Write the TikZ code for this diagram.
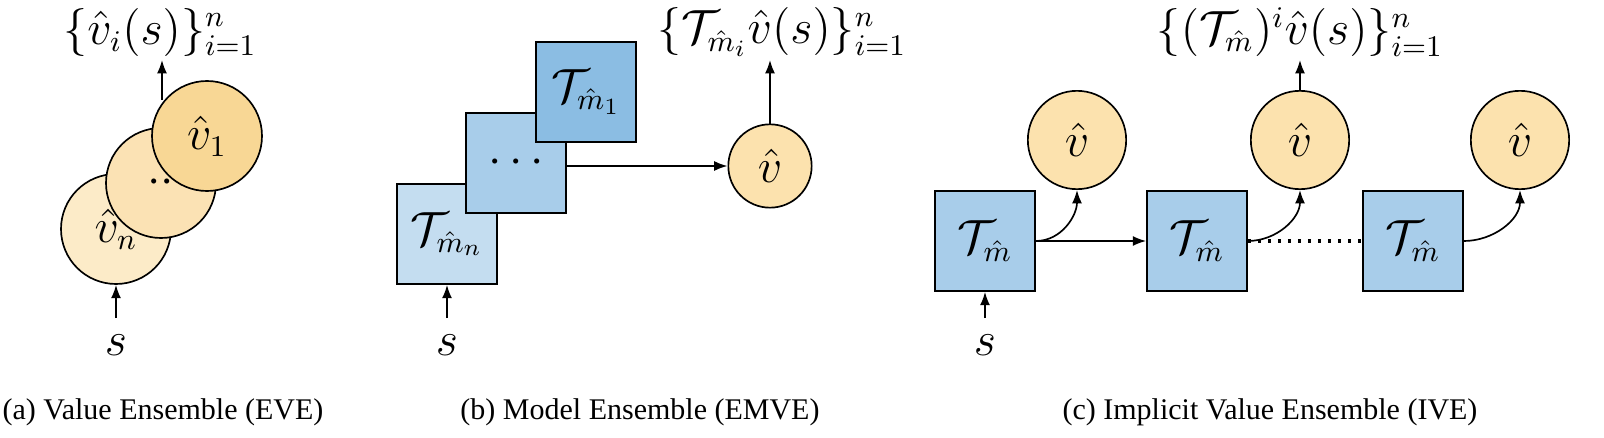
\documentclass[tikz,border=0pt]{standalone}
\usepackage{fontspec}
\setmainfont{Liberation Serif}
\usetikzlibrary{arrows.meta}
\definecolor{o1}{HTML}{FCEBC8}\definecolor{o2}{HTML}{FBE2B4}\definecolor{o3}{HTML}{F8D795}\definecolor{oc}{HTML}{FCE2AE}
\definecolor{b1}{HTML}{C4DDF0}\definecolor{b2}{HTML}{A8CDEA}\definecolor{b3}{HTML}{8BBDE3}
\begin{document}
\begin{tikzpicture}[x=0.3pt,y=-0.3pt,
 m/.style={font=\fontsize{13.5}{16}\selectfont},
 circ/.style={circle,draw,line width=0.5pt,minimum size=33pt,inner sep=0pt,m},
 box/.style={rectangle,draw,line width=0.5pt,minimum size=30pt,inner sep=0pt,m},
 ar/.style={-{Latex[length=4pt,width=3pt]},line width=0.5pt},
 captxt/.style={font=\fontsize{9}{11}\selectfont}]
\useasboundingbox (0,0) rectangle (1604,438);
% (a)
\coordinate (a0) at (162,100);
\draw[ar] (a0) -- (162,60);
\node[circ,fill=o1] (vn) at (116,229) {$\hat v_n$};
\node[circ,fill=o2] (vm) at (161,183) {$\cdot\cdot$};
\node[circ,fill=o3] (v1) at (207,136) {$\hat v_1$};
\node[m] (ta) at (160,32) {$\{\hat v_i(s)\}_{i=1}^n$};
\node[m] (sa) at (116,345) {$s$};
\coordinate (sa0) at (116,318);
\draw[ar] (sa0) -- (vn.south);
\node[captxt] at (163,412) {(a) Value Ensemble (EVE)};
% (b)
\node[box,fill=b1] (tn) at (447,234) {$\mathcal T_{\hat m_n}$};
\node[box,fill=b2] (td) at (516,163) {$\cdots$};
\node[box,fill=b3] (t1) at (586,92) {$\mathcal T_{\hat m_1}$};
\node[circ,fill=oc,minimum size=25pt] (vb) at (770,166) {$\hat v$};
\draw[ar] (td.east |- vb) -- (vb);
\node[m] (tb) at (782,32) {$\{\mathcal T_{\hat m_i}\hat v(s)\}_{i=1}^n$};
\draw[ar] (vb.north) -- (770,60);
\node[m] (sb) at (447,345) {$s$};
\coordinate (sb0) at (447,318);
\draw[ar] (sb0) -- (tn.south);
\node[captxt] at (640,412) {(b) Model Ensemble (EMVE)};
% (c)
\node[box,fill=b2] (c1) at (985,241) {$\mathcal T_{\hat m}$};
\node[box,fill=b2] (c2) at (1197,241) {$\mathcal T_{\hat m}$};
\node[box,fill=b2] (c3) at (1413,241) {$\mathcal T_{\hat m}$};
\node[circ,fill=oc,minimum size=29.5pt] (e1) at (1077,140) {$\hat v$};
\node[circ,fill=oc,minimum size=29.5pt] (e2) at (1300,140) {$\hat v$};
\node[circ,fill=oc,minimum size=29.5pt] (e3) at (1520,140) {$\hat v$};
\draw[ar] (c1.east) -- (c2.west);
\draw[ar] (c1.east) to[out=0,in=-90] (e1.south);
\draw[ar] (c2.east) to[out=0,in=-90] (e2.south);
\draw[ar] (c3.east) to[out=0,in=-90] (e3.south);
\draw[line width=1pt,dotted] (c2.east) -- (c3.west);
\node[m] (tc) at (1300,32) {$\{(\mathcal T_{\hat m})^i\hat v(s)\}_{i=1}^n$};
\draw[ar] (e2.north) -- (1300,60);
\node[m] (sc) at (985,345) {$s$};
\coordinate (sc0) at (985,318);
\draw[ar] (sc0) -- (c1.south);
\node[captxt] at (1270,412) {(c) Implicit Value Ensemble (IVE)};
\end{tikzpicture}
\end{document}
